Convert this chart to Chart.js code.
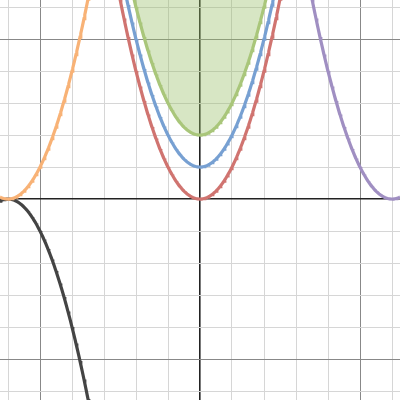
<!DOCTYPE html>
<html><head><script src="https://cdn.jsdelivr.net/npm/chart.js@4"></script>
<style>html,body{margin:0;padding:0;background:#fff}#w{width:400px;height:400px}</style></head>
<body><div id="w"><canvas id="c"></canvas></div>
<script>
// Parabolas y = sign*(x - shift)^2 + offset
const names   = ["red","blue","green","orange","purple","black"];
const shifts  = [0, 0, 0, -6, 6, -6];
const offsets = [0, 1, 2, 0, 0, 0];
const signs   = [1, 1, 1, 1, 1, -1];
const colors  = ["#d07470","#77a0d2","#a9c67a","#f8b276","#a08fc2","#444444"];
const xMin=-6.25, xMax=6.25, yMin=-6.28, yMax=6.22;
function pts(i){const a=[];for(let k=0;k<=500;k++){const x=xMin+(xMax-xMin)*k/500;a.push({x,y:signs[i]*(x-shifts[i])**2+offsets[i]});}return a;}
const datasets=names.map((n,i)=>({label:n,data:pts(i),borderColor:colors[i],borderWidth:3.2,pointRadius:0,showLine:true,tension:0,
 fill:n==="green"?'end':false,backgroundColor:n==="green"?"rgba(150,190,100,0.38)":undefined}));
function grid(ctx){const v=ctx.tick&&ctx.tick.value;if(v===0)return "#222";if(Math.abs(v)%5===0)return "#888";return "#d6d6d6";}
function gw(ctx){const v=ctx.tick&&ctx.tick.value;return v===0?1.6:1;}
function ticks(ax){ax.ticks=[];for(let v=-6;v<=6;v++)ax.ticks.push({value:v});}
new Chart(document.getElementById('c'),{type:'scatter',data:{datasets},
options:{responsive:true,maintainAspectRatio:false,animation:false,layout:{padding:0},
plugins:{legend:{display:false},tooltip:{enabled:false}},
scales:{x:{type:'linear',min:xMin,max:xMax,afterBuildTicks:ticks,ticks:{display:false},border:{display:false},grid:{color:grid,lineWidth:gw,drawTicks:false}},
y:{type:'linear',min:yMin,max:yMax,afterBuildTicks:ticks,ticks:{display:false},border:{display:false},grid:{color:grid,lineWidth:gw,drawTicks:false}}}}});
</script></body></html>
